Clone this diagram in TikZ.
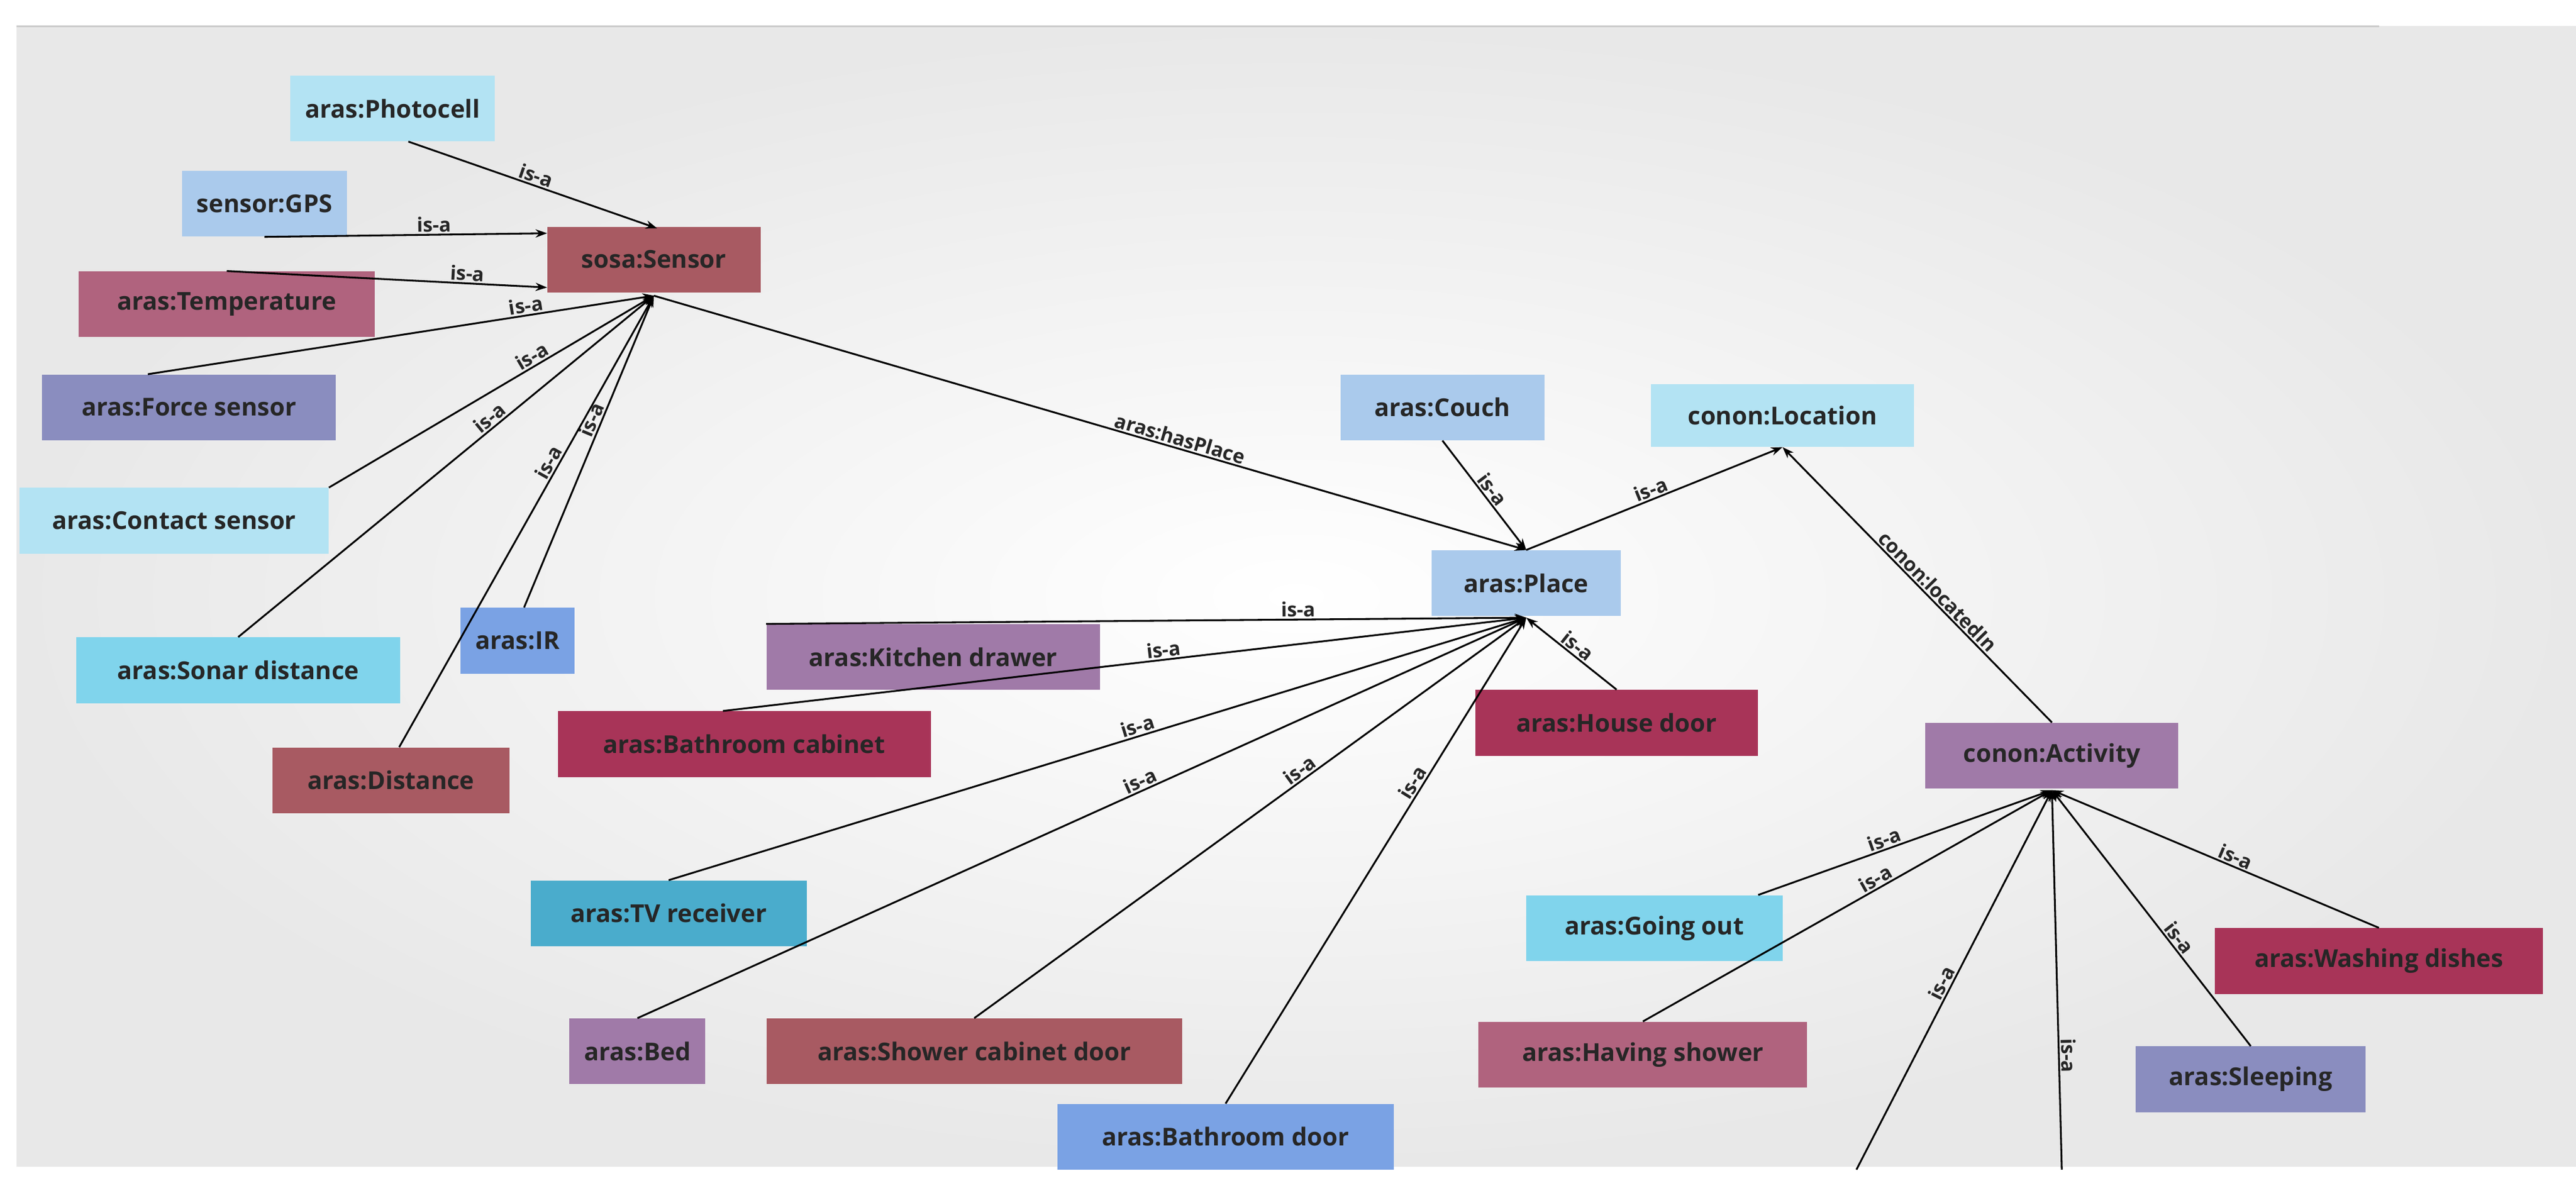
\documentclass[tikz,border=0pt]{standalone}
\usepackage{fontspec}
\setmainfont{Open Sans}
\usetikzlibrary{arrows.meta,shadings}
\definecolor{cLC}{HTML}{B3E3F3}
\definecolor{cLB}{HTML}{AACAEC}
\definecolor{cDR}{HTML}{A85A62}
\definecolor{cPK}{HTML}{B0637E}
\definecolor{cSL}{HTML}{8A8DBF}
\definecolor{cCY}{HTML}{80D4EC}
\definecolor{cBL}{HTML}{7AA2E4}
\definecolor{cPU}{HTML}{A07AA8}
\definecolor{cCR}{HTML}{A83458}
\definecolor{cTV}{HTML}{4AACCC}
\tikzset{
 box/.style={fill=#1,minimum height=40pt,inner xsep=9pt,font=\fontsize{15}{17}\selectfont\bfseries,text=black!85},
 lnk/.style={draw=black,line width=1.1pt},
 arr/.style={lnk,-{Stealth[length=7pt,width=5pt]}},
 lab/.style={sloped,above,inner sep=1pt,font=\fontsize{12}{14}\selectfont\bfseries,text=black!85}
}
\begin{document}
\begin{tikzpicture}[x=1pt,y=-1pt]
\useasboundingbox (0,0) rectangle (1568,723);
\shade[inner color=white,outer color=gray!18] (10,16) rectangle (1568,710);
\fill[white] (0,0) rectangle (1568,16);
\draw[gray!40,line width=0.8pt] (10,16) -- (1448,16);
% nodes
\node[box=cLC] (photo) at (239,66) {aras:Photocell};
\node[box=cLB] (gps) at (161,124) {sensor:GPS};
\node[box=cDR,minimum width=130pt] (sensor) at (398,158) {sosa:Sensor};
\node[box=cPK,minimum width=180pt] (temp) at (138,185) {aras:Temperature};
\node[box=cSL,minimum width=179pt] (force) at (115,248) {aras:Force sensor};
\node[box=cLC,minimum width=188pt] (contact) at (106,317) {aras:Contact sensor};
\node[box=cCY,minimum width=197pt] (sonar) at (145,408) {aras:Sonar distance};
\node[box=cBL] (ir) at (315,390) {aras:IR};
\node[box=cDR,minimum width=144pt] (dist) at (238,475) {aras:Distance};
\node[box=cLB,minimum width=124pt] (couch) at (878,248) {aras:Couch};
\node[box=cLC,minimum width=160pt,minimum height=38pt] (loc) at (1085,253) {conon:Location};
\node[box=cLB,minimum width=115pt] (place) at (929,355) {aras:Place};
\node[box=cPU,minimum width=203pt] (kitchen) at (568,400) {aras:Kitchen drawer};
\node[box=cCR,minimum width=227pt] (bcab) at (453,453) {aras:Bathroom cabinet};
\node[box=cCR,minimum width=172pt] (house) at (984,440) {aras:House door};
\node[box=cPU,minimum width=154pt] (act) at (1249,460) {conon:Activity};
\node[box=cTV,minimum width=168pt] (tv) at (407,556) {aras:TV receiver};
\node[box=cPU,minimum width=80pt] (bed) at (388,640) {aras:Bed};
\node[box=cDR,minimum width=253pt] (shower) at (593,640) {aras:Shower cabinet door};
\node[box=cBL,minimum width=205pt] (bdoor) at (746,692) {aras:Bathroom door};
\node[box=cCY,minimum width=156pt] (going) at (1007,565) {aras:Going out};
\node[box=cPK,minimum width=200pt] (having) at (1000,642) {aras:Having shower};
\node[box=cCR,minimum width=200pt] (wash) at (1448,585) {aras:Washing dishes};
\node[box=cSL,minimum width=140pt] (sleep) at (1370,657) {aras:Sleeping};
% anchor coordinates
\coordinate (sb) at (398,180);
\coordinate (pb) at (929,376);
\coordinate (ab) at (1249,481);
\coordinate (o1) at (1130,712);
\coordinate (o2) at (1255,712);
% sensor edges
\draw[arr] (photo.south west) ++(72,0) coordinate (p1) -- node[lab]{is-a} (400,139);
\draw[arr] (gps.south) -- node[lab,pos=0.6]{is-a} (333,142);
\draw[arr] (138,165) -- node[lab,pos=0.75]{is-a} (333,175);
\draw[arr] (force.north) ++(-25,0) -- node[lab,pos=0.75]{is-a} (sb);
\draw[arr] (contact.north east) -- node[lab,pos=0.64]{is-a} (sb);
\draw[arr] (sonar.north) -- node[lab,pos=0.62]{is-a} (sb);
\draw[arr] (ir.north) ++(4,0) -- node[lab,pos=0.59]{is-a} (sb);
\draw[arr] (dist.north) ++(5,0) -- node[lab,pos=0.62]{is-a} (sb);
\draw[arr] (sb) -- node[lab,pos=0.6]{aras:hasPlace} (place.north);
% place edges
\draw[arr] (couch.south) -- node[lab]{is-a} (place.north);
\draw[arr] (place.north) -- node[lab]{is-a} (loc.south);
\draw[arr] (kitchen.north west) -- node[lab,pos=0.7]{is-a} (pb);
\draw[arr] (bcab.north) ++(-13,0) -- node[lab,pos=0.55]{is-a} (pb);
\draw[arr] (house.north) -- node[lab]{is-a} (pb);
\draw[arr] (tv.north) -- node[lab,pos=0.55]{is-a} (pb);
\draw[arr] (bed.north) -- node[lab,pos=0.57]{is-a} (pb);
\draw[arr] (shower.north) -- node[lab,pos=0.6]{is-a} (pb);
\draw[arr] (bdoor.north) -- node[lab,pos=0.65]{is-a} (pb);
% activity
\draw[arr] (act.north) -- node[lab,pos=0.45]{conon:locatedIn} (loc.south);
\draw[arr] (going.north east) ++(-15,0) -- node[lab,pos=0.44]{is-a} (ab);
\draw[arr] (having.north) -- node[lab,pos=0.58]{is-a} (ab);
\draw[arr] (o1) -- node[lab,pos=0.48]{is-a} (ab);
\draw[arr] (o2) -- node[lab,pos=0.3]{is-a} (ab);
\draw[arr] (sleep.north) -- node[lab,pos=0.4]{is-a} (ab);
\draw[arr] (wash.north) -- node[lab,pos=0.45]{is-a} (ab);
\end{tikzpicture}
\end{document}
